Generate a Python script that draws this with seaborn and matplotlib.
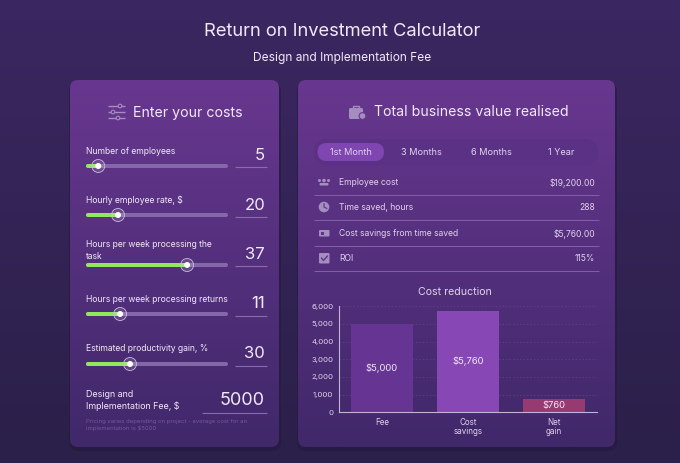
import numpy as np
import pandas as pd
import matplotlib
matplotlib.use('Agg')
import matplotlib.pyplot as plt
import matplotlib.patches as mpatches
from matplotlib.colors import LinearSegmentedColormap
import seaborn as sns

# ── data ─────────────────────────────────────────────
slider_labels = ['Number of employees', 'Hourly employee rate, $',
                 'Hours per week processing the\ntask',
                 'Hours per week processing returns',
                 'Estimated productivity gain, %']
slider_values = ['5', '20', '37', '11', '30']
slider_fracs = [0.08, 0.22, 0.71, 0.235, 0.305]

tab_labels = ['1st Month', '3 Months', '6 Months', '1 Year']
row_labels = ['Employee cost', 'Time saved, hours',
              'Cost savings from time saved', 'ROI']
row_values = ['$19,200.00', '288', '$5,760.00', '115%']

bar_cats = ['Fee', 'Cost\nsavings', 'Net\ngain']
bar_vals = [5000, 5760, 760]
bar_text = ['$5,000', '$5,760', '$760']
y_ticks = [0, 1000, 2000, 3000, 4000, 5000, 6000]

# ── style ────────────────────────────────────────────
sns.set_theme(style='white')
plt.rcParams['font.family'] = ['Inter', 'DejaVu Sans']
W, H = 680, 463
TXT = '#f1e9f8'
SOFT = '#e0d3ec'
LINE = '#8a6bab'
ICON = '#a48dbf'
BAR_COLORS = ['#663493', '#8748b5', '#973a72']

fig = plt.figure(figsize=(W / 100, H / 100), dpi=100)
bg = fig.add_axes([0, 0, 1, 1])
bg.axis('off')


def gradient(top, bottom, extent, clip=None, z=1):
    cmap = LinearSegmentedColormap.from_list('g', [top, bottom])
    im = bg.imshow(np.linspace(0, 1, 256)[:, None], cmap=cmap, aspect='auto',
                   extent=extent, zorder=z)
    if clip is not None:
        im.set_clip_path(clip)


def panel(x0, y0, x1, y1):
    bg.add_patch(mpatches.FancyBboxPatch(
        (x0 - 1, y0 + 2), x1 - x0 + 3, y1 - y0 + 2,
        boxstyle='round,pad=0,rounding_size=9', fc='#241a3e', ec='none', alpha=0.6, zorder=2))
    box = mpatches.FancyBboxPatch(
        (x0, y0), x1 - x0, y1 - y0,
        boxstyle='round,pad=0,rounding_size=8', fc='none', ec='none', zorder=3)
    bg.add_patch(box)
    gradient('#68378f', '#40286a', (x0, x1, y1, y0), clip=box, z=3)


def pill(x0, y0, x1, y1, color, alpha=1.0):
    bg.add_patch(mpatches.FancyBboxPatch(
        (x0, y0), x1 - x0, y1 - y0,
        boxstyle=f'round,pad=0,rounding_size={(y1 - y0) / 2}',
        fc=color, ec='none', alpha=alpha, zorder=4))


def hline(x0, x1, y, color=LINE, lw=0.8):
    bg.plot([x0, x1], [y, y], color=color, lw=lw, zorder=5, solid_capstyle='butt')


def txt(x, y, s, size, color=TXT, ha='left', **kw):
    bg.text(x, y + 0.8, s, fontsize=size, color=color, ha=ha, va='center', zorder=6, **kw)


gradient('#3b2761', '#2b2049', (0, W, H, 0))
panel(70, 80, 279, 447)
panel(298, 80, 615, 447)

txt(342, 31, 'Return on Investment Calculator', 13.2, ha='center')
txt(342, 57, 'Design and Implementation Fee', 8.6, ha='center')

# ── left panel ───────────────────────────────────────
txt(133, 112, 'Enter your costs', 10.2)
for yy, xx in zip([106, 112, 118], [120, 113, 118]):
    hline(108, 125, yy, ICON, 1.0)
    bg.add_patch(mpatches.Circle((xx, yy), 1.8, fc='#5f3389', ec=ICON, lw=0.8, zorder=6))

TRACK_L, TRACK_R = 87, 228
track_y = [166, 215, 265, 314, 364]
label_y = [150.5, 199.5, 249.5, 298.5, 347.5]
value_y = [155, 205, 254, 303, 353]
under_y = [167, 217, 266, 315.5, 365.5]
for lab, val, frac, ty, ly, vy, uy in zip(slider_labels, slider_values, slider_fracs,
                                          track_y, label_y, value_y, under_y):
    txt(86, ly, lab, 6.2, linespacing=1.35)
    txt(265, vy, val, 12, ha='right')
    hline(235, 267, uy)
    thumb = TRACK_L + frac * (TRACK_R - TRACK_L)
    pill(TRACK_L - 1, ty - 2, TRACK_R, ty + 2, '#8467a8')
    pill(TRACK_L - 1, ty - 2, thumb, ty + 2, '#90e85c')
    bg.add_patch(mpatches.Circle((thumb, ty), 6.5, fc='#ffffff', alpha=0.12, ec='none', zorder=5))
    bg.add_patch(mpatches.Circle((thumb, ty), 6.5, fc='none', ec='#cbbbdc', lw=0.6, zorder=5))
    bg.add_patch(mpatches.Circle((thumb, ty), 3, fc='white', ec='none', zorder=6))

txt(86, 400, 'Design and\nImplementation Fee, $', 6.4, linespacing=1.35)
txt(265, 399.5, '5000', 13, ha='right')
hline(202, 267, 412.5)
txt(86, 424.5, 'Pricing varies depending on project - average cost for an\nimplementation is $5000',
    4.3, color='#75589b', linespacing=1.4)

# ── right panel ──────────────────────────────────────
txt(374, 111.5, 'Total business value realised', 10.2)
bg.add_patch(mpatches.FancyBboxPatch((349, 108), 14, 11, boxstyle='round,pad=0,rounding_size=1.5',
                                     fc=ICON, ec='none', zorder=6))
bg.add_patch(mpatches.Rectangle((353, 105.5), 6, 3, fc='none', ec=ICON, lw=1, zorder=6))
bg.add_patch(mpatches.Circle((362.5, 116), 3.4, fc=ICON, ec='#68378f', lw=0.8, zorder=7))

pill(314, 139, 598, 165, '#5b3186')
pill(317.5, 143, 384, 161, '#7f45b0')
for lab, cx in zip(tab_labels, [351, 421, 491, 561]):
    txt(cx, 151.5, lab, 6.6, color=SOFT, ha='center')

row_y = [182, 207, 233, 258]
for lab, val, ry in zip(row_labels, row_values, row_y):
    txt(339, ry, lab, 6.2, color=SOFT)
    txt(595, ry, val, 6.1, color=SOFT, ha='right')
    hline(314, 599, ry + 12.5, '#8560a8', 0.7)

# row icons
for dx, r in zip([-4.5, 0, 4.5], [1.5, 1.8, 1.5]):
    bg.add_patch(mpatches.Circle((324 + dx, 180.5), r, fc=ICON, ec='none', zorder=6))
bg.add_patch(mpatches.FancyBboxPatch((319.5, 183), 9, 2.5, boxstyle='round,pad=0,rounding_size=1',
                                     fc=ICON, ec='none', zorder=6))
bg.add_patch(mpatches.Circle((324, 207), 5.3, fc=ICON, ec='none', zorder=6))
bg.plot([324, 324, 327], [203.5, 207, 208.5], color='#5f3389', lw=0.8, zorder=7)
bg.add_patch(mpatches.FancyBboxPatch((319, 230), 10.5, 6.5, boxstyle='round,pad=0,rounding_size=1',
                                     fc=ICON, ec='none', zorder=6))
bg.add_patch(mpatches.Rectangle((321, 232), 2.5, 2.5, fc='#5f3389', ec='none', zorder=7))
bg.add_patch(mpatches.FancyBboxPatch((319, 253), 10.5, 10.5, boxstyle='round,pad=0,rounding_size=1',
                                     fc=ICON, ec='none', zorder=6))
bg.plot([321.5, 323.5, 327.5], [258, 260.5, 256], color='#5f3389', lw=1, zorder=7)

txt(455, 291.5, 'Cost reduction', 7.6, color=SOFT, ha='center')

bg.set_xlim(0, W)
bg.set_ylim(H, 0)

# ── bar chart ────────────────────────────────────────
AX_L, AX_R, AX_T, AX_B = 339, 597, 306.3, 412.3
ax = fig.add_axes([AX_L / W, 1 - AX_B / H, (AX_R - AX_L) / W, (AX_B - AX_T) / H])
ax.patch.set_alpha(0)
df = pd.DataFrame({'cat': bar_cats, 'val': bar_vals})
sns.barplot(data=df, x='cat', y='val', hue='cat', palette=BAR_COLORS, width=0.72,
            legend=False, saturation=1, linewidth=0, ax=ax)
ax.set_xlim(-0.5, 2.5)
ax.set_ylim(0, 6000)
ax.set_yticks(y_ticks)
ax.set_yticklabels([f'{v:,}' for v in y_ticks])
ax.set_xlabel('')
ax.set_ylabel('')
ax.set_axisbelow(True)
ax.yaxis.grid(True, color='#6f4f96', lw=0.5, ls=(0, (2, 3)), alpha=0.7)
ax.tick_params(axis='y', labelsize=5.6, labelcolor=SOFT, length=0, pad=4)
ax.tick_params(axis='x', labelsize=5.8, labelcolor=SOFT, length=0, pad=4)
for lab in ax.get_xticklabels():
    lab.set_linespacing(1.05)
ax.spines[['top', 'right']].set_visible(False)
for side in ['left', 'bottom']:
    ax.spines[side].set_color('#c4b3d8')
    ax.spines[side].set_linewidth(0.8)
for container, lab in zip(ax.containers, bar_text):
    ax.bar_label(container, labels=[lab], label_type='center', fontsize=6.8, color=TXT)

fig.savefig('out.png', dpi=100)
